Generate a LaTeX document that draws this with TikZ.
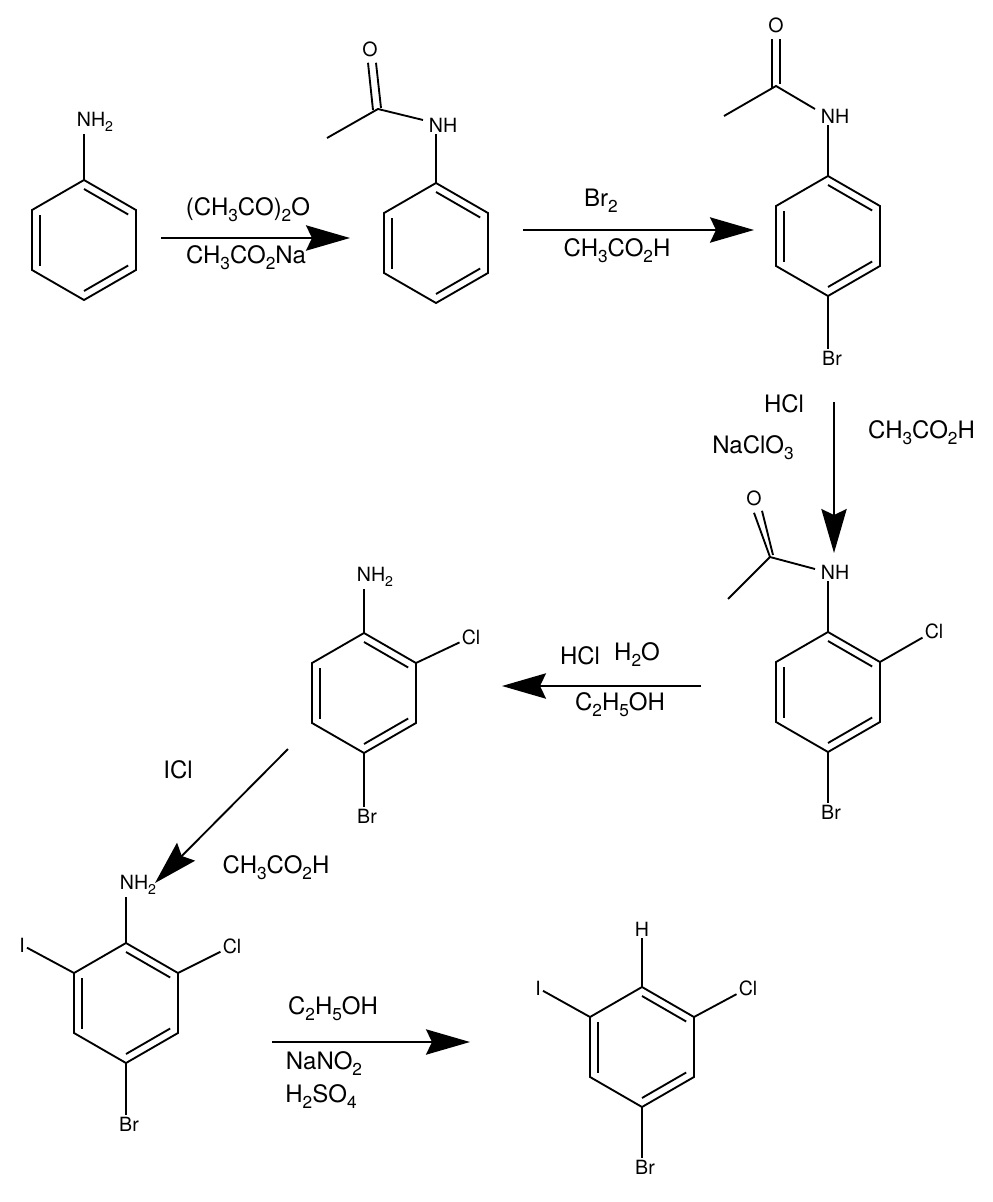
\documentclass[tikz,border=0pt]{standalone}
\usepackage{fontspec}
\setmainfont{TeX Gyre Heros}
\usetikzlibrary{calc,arrows.meta}
\tikzset{
	bond/.style={line width=1.4pt},
	rxn/.style={line width=1.4pt,-{Stealth[length=33pt,width=19pt,inset=4.5pt]}},
	atom/.style={inner sep=1.5pt,font=\fontsize{14.7}{16}\selectfont},
	reagent/.style={inner sep=1pt,font=\fontsize{18}{20}\selectfont}
}
\newcommand{\lowr}[1]{\raisebox{-0.24em}{\scalebox{0.72}{#1}}}
\newcommand{\benzene}[2]{
	\coordinate (#1) at (#2);
	\foreach \v/\ang in {a/-90,b/-30,c/30,d/90,e/150,f/210} \coordinate (#1\v) at ($(#1)+(\ang:60)$);
	\draw [bond,line join=miter] (#1a)--(#1b)--(#1c)--(#1d)--(#1e)--(#1f)--cycle;
	\foreach \p/\q in {a/b,c/d,e/f} \draw [bond] ($(#1\p)!0.15!(#1)$)--($(#1\q)!0.15!(#1)$);
}

\begin{document}
\begin{tikzpicture}[x=0.75pt,y=-0.75pt]
\useasboundingbox (0,0) rectangle (992,1202);

\benzene{rA}{84,240}
\benzene{rB}{436,243}
\benzene{rC}{828,236}
\benzene{rD}{828,692}
\benzene{rE}{364,693}
\benzene{rF}{126,1003}
\benzene{rG}{642,1047}

\node [atom] (nhA) at (95,122) {NH\lowr{2}};
\draw [bond] (rAa)--(rAa |- nhA.south);

\node [atom] (nhB) at (443,125) {NH};
\node [atom] (oB) at (370,49) {O};
\coordinate (cB) at (378,109);
\coordinate (meB) at (327,138);
\coordinate (nB) at (423,120);
\draw [bond] (rBa)--(rBa |- nhB.south);
\draw [bond] (meB)--(cB)--(nB);
\draw [bond] ($(cB)+(-5,1)$)--($(oB.south)+(-2,4)$);
\draw [bond] ($(cB)+(3,-1)$)--($(oB.south)+(6,4)$);

\node [atom] (nhC) at (835,116) {NH};
\node [atom] (oC) at (776,25) {O};
\node [atom] (brC) at (832,358) {Br};
\coordinate (cC) at (776,86);
\coordinate (meC) at (724,116);
\coordinate (nC) at (815,109);
\draw [bond] (rCa)--(rCa |- nhC.south);
\draw [bond] (rCd)--(rCd |- brC.north);
\draw [bond] (meC)--(cC)--(nC);
\draw [bond] ($(cC)+(-4,2)$)--($(oC.south)+(-4,4)$);
\draw [bond] ($(cC)+(4,-2)$)--($(oC.south)+(4,4)$);

\node [atom] (nhD) at (835,572) {NH};
\node [atom] (oD) at (754,498) {O};
\node [atom] (clD) at (934,631) {Cl};
\node [atom] (brD) at (831,812) {Br};
\coordinate (cD) at (770,557);
\coordinate (meD) at (728,599);
\coordinate (nD) at (815,569);
\draw [bond] (rDa)--(rDa |- nhD.south);
\draw [bond] (rDb)--(clD);
\draw [bond] (rDd)--(rDd |- brD.north);
\draw [bond] (meD)--(cD)--(nD);
\draw [bond] (cD)--($(oD.south)+(0,5)$);
\draw [bond] ($(cD)+(3,-2)$)--($(oD.south)+(8,3)$);

\node [atom] (nhE) at (375,577) {NH\lowr{2}};
\node [atom] (clE) at (471,637) {Cl};
\node [atom] (brE) at (367,816) {Br};
\draw [bond] (rEa)--(rEa |- nhE.south);
\draw [bond] (rEb)--(clE);
\draw [bond] (rEd)--(rEd |- brE.north);

\node [atom] (nhF) at (138,885) {NH\lowr{2}};
\node [atom] (iF) at (22,945) {I};
\node [atom] (clF) at (232,946) {Cl};
\node [atom] (brF) at (129,1124) {Br};
\draw [bond] (rFa)--(rFa |- nhF.south);
\draw [bond] (rFf)--(iF);
\draw [bond] (rFb)--(clF);
\draw [bond] (rFd)--(rFd |- brF.north);

\node [atom] (hG) at (642,929) {H};
\node [atom] (iG) at (538,988) {I};
\node [atom] (clG) at (748,988) {Cl};
\node [atom] (brG) at (645,1167) {Br};
\draw [bond] (rGa)--(hG);
\draw [bond] (rGf)--(iG);
\draw [bond] (rGb)--(clG);
\draw [bond] (rGd)--(rGd |- brG.north);

\coordinate (sA) at (161,238);
\coordinate (tA) at (350,238);
\coordinate (sB) at (523,230);
\coordinate (tB) at (754,230);
\coordinate (sC) at (834,402);
\coordinate (tC) at (834,553);
\coordinate (sD) at (701,686);
\coordinate (tD) at (502,686);
\coordinate (sE) at (288,749);
\coordinate (tE) at (155,883);
\coordinate (sF) at (272,1042);
\coordinate (tF) at (470,1042);
\draw [rxn] (sA)--(tA);
\draw [rxn] (sB)--(tB);
\draw [rxn] (sC)--(tC);
\draw [rxn] (sD)--(tD);
\draw [rxn] (sE)--(tE);
\draw [rxn] (sF)--(tF);

\node [reagent] (acan) at (248,209.5) {(CH\lowr{3}CO)\lowr{2}O};
\node [reagent] (acna) at (246,257.5) {CH\lowr{3}CO\lowr{2}Na};
\node [reagent] (brtwo) at (601,201) {Br\lowr{2}};
\node [reagent] (acohB) at (617,250.5) {CH\lowr{3}CO\lowr{2}H};
\node [reagent] (hclC) at (784,404) {HCl};
\node [reagent] (naclo) at (753,447.5) {NaClO\lowr{3}};
\node [reagent] (acohC) at (921.5,432.5) {CH\lowr{3}CO\lowr{2}H};
\node [reagent] (hclD) at (580,656) {HCl};
\node [reagent] (water) at (637,654.5) {H\lowr{2}O};
\node [reagent] (etohD) at (620,704.5) {C\lowr{2}H\lowr{5}OH};
\node [reagent] (icl) at (178,770) {ICl};
\node [reagent] (acohE) at (276,867.5) {CH\lowr{3}CO\lowr{2}H};
\node [reagent] (etohF) at (333,1008.5) {C\lowr{2}H\lowr{5}OH};
\node [reagent] (nano) at (324,1063.5) {NaNO\lowr{2}};
\node [reagent] (acid) at (321,1096.5) {H\lowr{2}SO\lowr{4}};
\end{tikzpicture}
\end{document}
